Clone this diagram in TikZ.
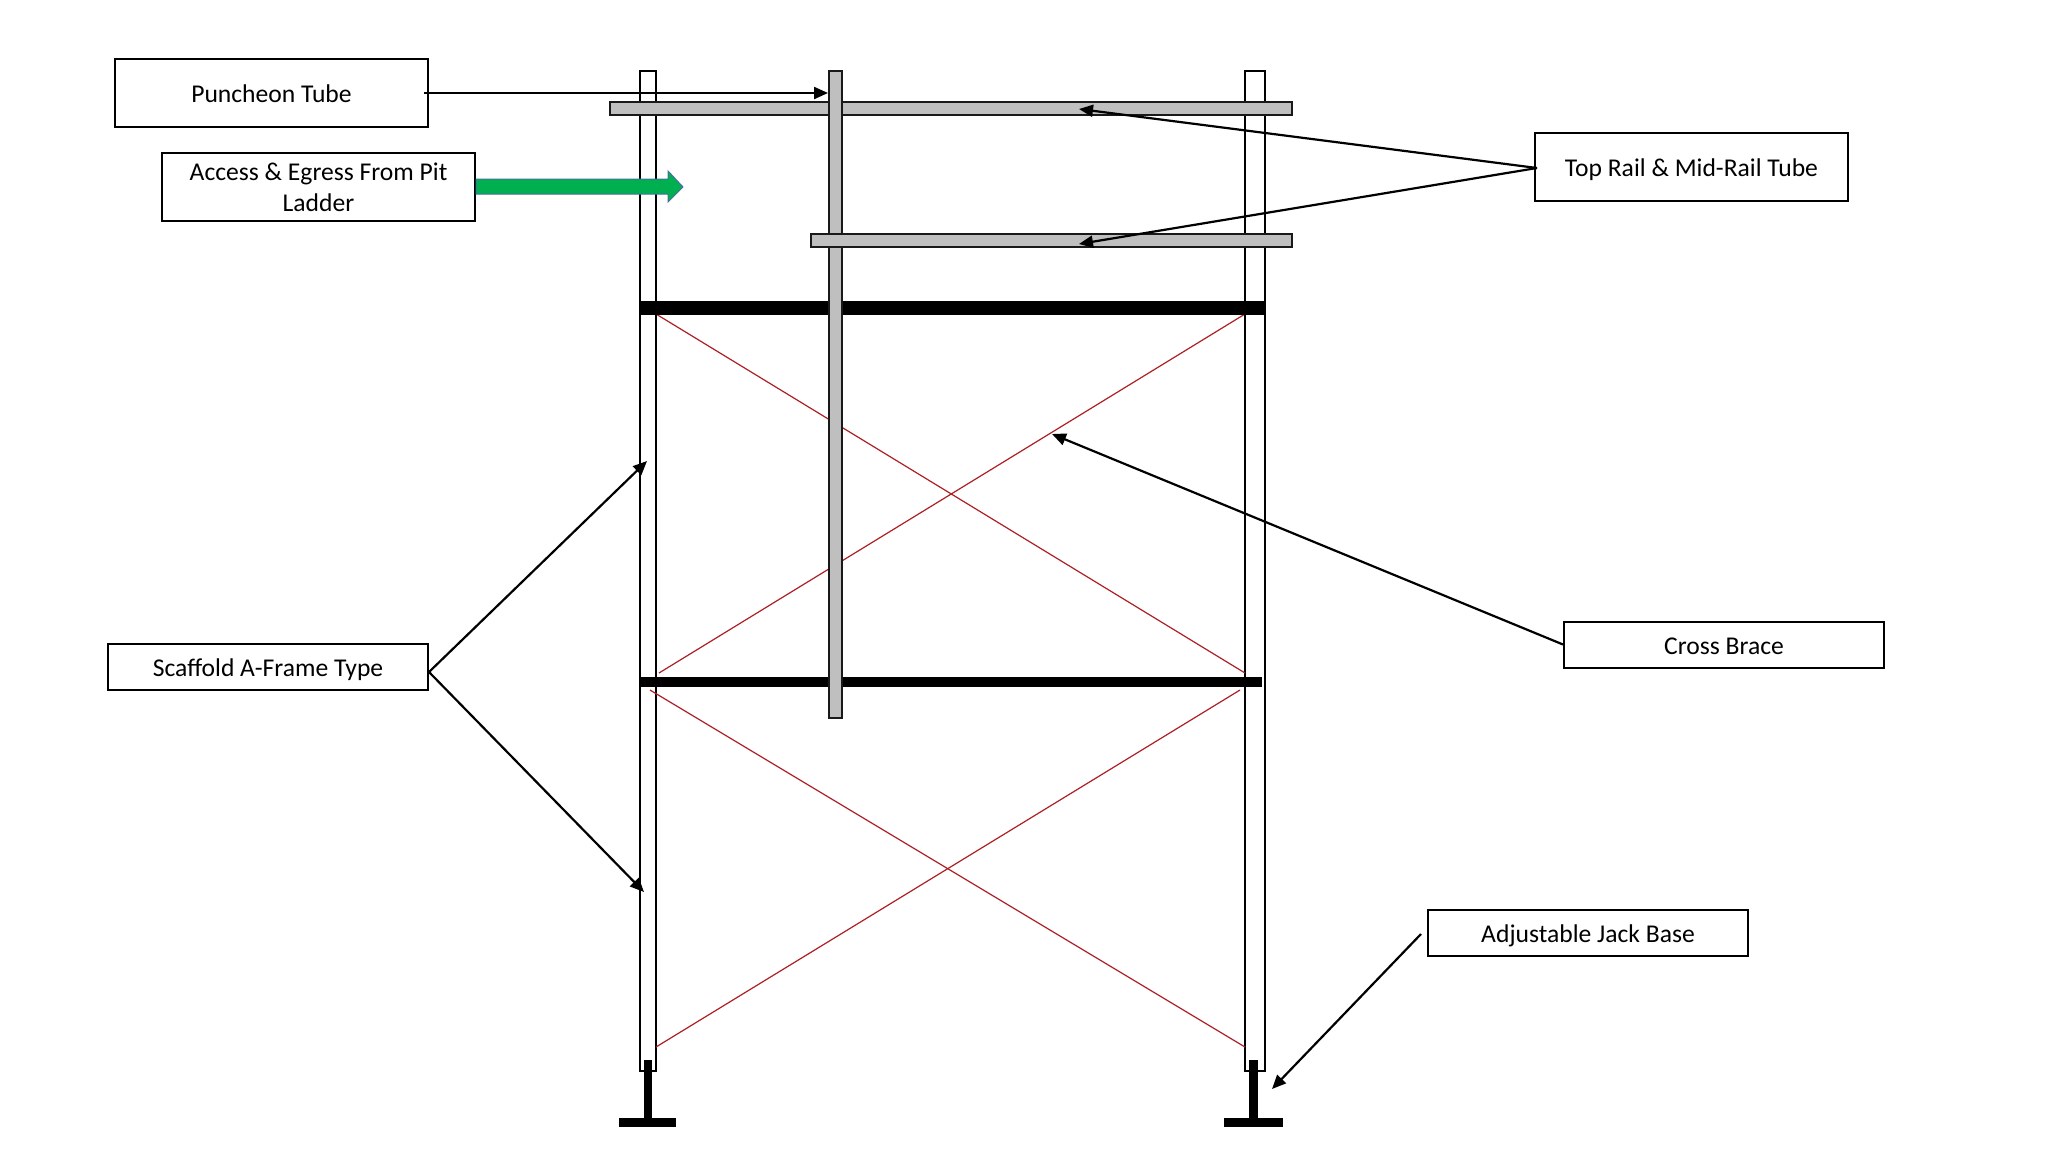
\documentclass[tikz,border=0pt]{standalone}
\usepackage{fontspec}
\setmainfont{Carlito}
\usetikzlibrary{arrows.meta}
\definecolor{railgrey}{HTML}{BFBFBF}
\definecolor{bracered}{HTML}{AE1F24}
\definecolor{egressgreen}{HTML}{00B050}
\definecolor{egressedge}{HTML}{41719C}
\tikzset{
  labelbox/.style={draw=black,fill=white,line width=2pt,rectangle,inner sep=0pt,align=center,
    font=\fontsize{25.6}{31}\selectfont,text=black,text height=22pt,text depth=3pt},
  leader/.style={draw=black,line width=2.2pt,-{Triangle[length=14pt,width=12pt]}},
  post/.style={draw=black,line width=2pt,fill=white},
  tube/.style={draw=black!90,line width=2.4pt,fill=railgrey},
  solidbar/.style={fill=black},
  brace/.style={draw=bracered,line width=1.2pt},
}
\begin{document}
\begin{tikzpicture}[x=1pt,y=-1pt]
\useasboundingbox (0,0) rectangle (2048,1152);
% posts
\draw[post] (640,71) rectangle (656,1071);
\draw[post] (1245,71) rectangle (1265,1071);
% braces
\draw[brace] (656,314) -- (1245,673);
\draw[brace] (1245,314) -- (659,673);
\draw[brace] (650,690) -- (1245,1047);
\draw[brace] (1240,690) -- (656,1047);
% top rail
\draw[tube] (610,102) rectangle (1292,115);
% black bars
\fill[solidbar] (640,301) rectangle (1265,315);
\fill[solidbar] (640,677) rectangle (1262,687);
% puncheon, then the mid rail over it
\draw[tube] (829,71) rectangle (842,718);
\draw[tube] (811,234) rectangle (1292,247);
% jack bases
\fill[solidbar] (644,1060) rectangle (652,1118);
\fill[solidbar] (619,1118) rectangle (676,1127);
\fill[solidbar] (1249,1060) rectangle (1258,1118);
\fill[solidbar] (1224,1118) rectangle (1283,1127);
% label boxes
\node[labelbox,minimum width=313pt,minimum height=68pt] (puncheon) at (271.5,93) {Puncheon Tube};
\node[labelbox,minimum width=313pt,minimum height=68pt,text height=52pt] (access) at (318.5,187) {Access \& Egress From Pit\\Ladder};
\node[labelbox,minimum width=313pt,minimum height=68pt] (toprail) at (1691.5,167) {Top Rail \& Mid-Rail Tube};
\node[labelbox,minimum width=320pt,minimum height=46pt] (scaffold) at (268,667) {Scaffold A-Frame Type};
\node[labelbox,minimum width=320pt,minimum height=46pt] (cross) at (1724,644.5) {Cross Brace};
\node[labelbox,minimum width=320pt,minimum height=46pt] (jack) at (1588,933) {Adjustable Jack Base};
% green arrow
\draw[draw=egressedge,line width=1pt,fill=egressgreen]
  (access.east |- 0,179) -- (668,179) -- (668,171) -- (683,187) -- (668,202) -- (668,194) -- (access.east |- 0,194) -- cycle;
% free ends
\coordinate (tipPuncheon) at (828,93);
\coordinate (tipTop) at (1079,109);
\coordinate (tipMid) at (1079,244);
\coordinate (tipCross) at (1052,434);
\coordinate (tipFrameA) at (647,461);
\coordinate (tipFrameB) at (644,892);
\coordinate (tipJack) at (1272,1089);
% leaders
\draw[leader] ([xshift=-5pt]puncheon.east) -- (tipPuncheon);
\draw[leader] ([xshift=3pt,yshift=-1pt]toprail.west) -- (tipTop);
\draw[leader] ([xshift=3pt,yshift=-1pt]toprail.west) -- (tipMid);
\draw[leader] (cross.west) -- (tipCross);
\draw[leader] ([yshift=-5pt]scaffold.east) -- (tipFrameA);
\draw[leader] ([yshift=-5pt]scaffold.east) -- (tipFrameB);
\draw[leader] ([xshift=-6pt,yshift=-1pt]jack.west) -- (tipJack);
\end{tikzpicture}
\end{document}
